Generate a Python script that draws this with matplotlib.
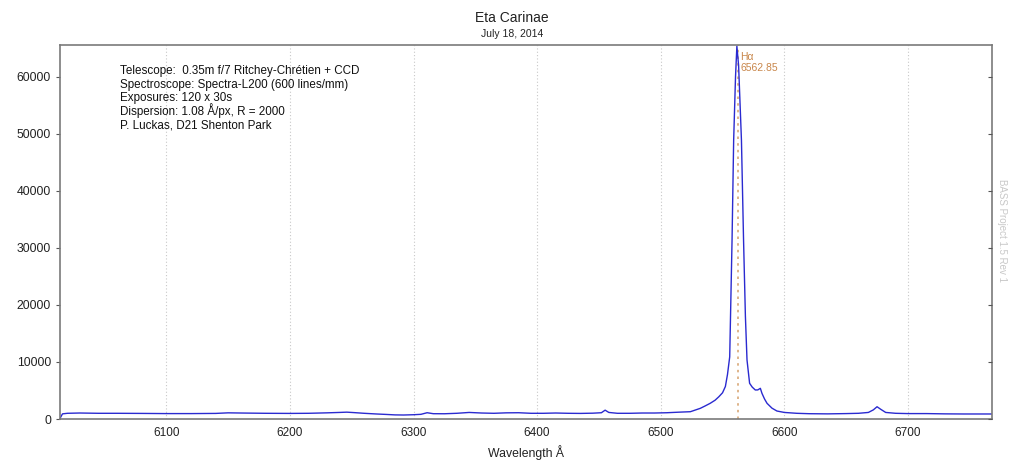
import matplotlib
matplotlib.use("Agg")
import matplotlib.pyplot as plt

# Spectrum (wavelength in Angstrom, intensity in ADU)
wavelength = [6014, 6016, 6020, 6030, 6045, 6060, 6080, 6100, 6120, 6140, 6150, 6160,
              6180, 6200, 6215, 6230, 6240, 6246, 6252, 6260, 6270, 6278, 6285, 6292,
              6300, 6306, 6311, 6316, 6325, 6335, 6345, 6355, 6365, 6375, 6385, 6395,
              6405, 6415, 6425, 6435, 6445, 6452, 6455, 6458, 6465, 6475, 6485, 6495,
              6505, 6515, 6524, 6532, 6536, 6540, 6544, 6547, 6550, 6552.3, 6554,
              6555.8, 6557.7, 6559, 6560.5, 6561.6, 6563, 6565.3, 6567, 6568.5,
              6569.8, 6571.9, 6574, 6576.5, 6578.5, 6580.6, 6581.9, 6584, 6586,
              6590, 6594, 6600, 6610, 6620, 6635, 6650, 6660, 6668, 6672, 6675,
              6678, 6682, 6690, 6700, 6715, 6730, 6745, 6760, 6768]
intensity = [100, 900, 1000, 1050, 1000, 1000, 980, 950, 950, 980, 1080, 1050,
             1000, 980, 1000, 1080, 1150, 1200, 1120, 1000, 880, 800, 720, 700,
             750, 820, 1100, 930, 920, 1000, 1150, 1050, 1000, 1080, 1100, 1000,
             1000, 1050, 1000, 980, 1020, 1100, 1550, 1150, 1000, 1000, 1050, 1050,
             1100, 1200, 1280, 1870, 2300, 2750, 3300, 3900, 4600, 5700, 7800,
             10900, 31400, 48900, 60000, 65400, 62000, 48900, 31400, 18000,
             10350, 6260, 5600, 5090, 5100, 5380, 4500, 3500, 2750,
             1900, 1400, 1150, 1000, 930, 900, 950, 1000, 1150, 1600, 2150,
             1700, 1150, 1000, 950, 950, 900, 880, 880, 880]

x_ticks = [6100, 6200, 6300, 6400, 6500, 6600, 6700]
y_ticks = [0, 10000, 20000, 30000, 40000, 50000, 60000]
halpha = 6562.85

info_lines = ["Telescope:  0.35m f/7 Ritchey-Chrétien + CCD",
              "Spectroscope: Spectra-L200 (600 lines/mm)",
              "Exposures: 120 x 30s",
              "Dispersion: 1.08 Å/px, R = 2000",
              "P. Luckas, D21 Shenton Park"]

plt.rcParams['font.family'] = ['Liberation Sans', 'DejaVu Sans']

fig = plt.figure(figsize=(10.24, 4.65), dpi=100)
ax = fig.add_axes([60/1024, 46/465, 932/1024, 374/465])

for xt in x_ticks:
    ax.axvline(xt, color='#c8c8c8', linestyle=(0, (1, 2)), linewidth=0.8, zorder=0)

ax.axvline(halpha, color='#d9a877', linestyle=(0, (1.5, 2.5)), linewidth=1.2, zorder=1)
ax.plot(wavelength, intensity, color='#2a2ad0', linewidth=1.0, zorder=2)

ax.set_xlim(6014, 6768)
ax.set_ylim(0, 65600)
ax.set_xticks(x_ticks)
ax.set_yticks(y_ticks)
ax.tick_params(axis='x', length=0, labelsize=8.5, pad=6, colors='#222222')
ax.tick_params(axis='y', length=3, labelsize=8.8, labelcolor='#222222',
               color='#555555', direction='out', width=0.8)
for s in ax.spines.values():
    s.set_color('#7a7a7a')
    s.set_linewidth(1.2)

ax_r = ax.twinx()
ax_r.set_ylim(0, 65600)
ax_r.set_yticks(y_ticks)
ax_r.tick_params(axis='y', direction='in', length=3, width=0.8, color='#555555',
                 labelright=False)
for s in ax_r.spines.values():
    s.set_visible(False)

ax.set_xlabel("Wavelength Å", fontsize=8.8, color='#222222', labelpad=4)

ax.text(halpha + 1.5, 64300, "Hα\n6562.85", color='#c8864a', fontsize=7.5,
        va='top', ha='left', linespacing=1.1)

for i, line in enumerate(info_lines):
    fig.text(120/1024, 1 - (74 + i * 13.5) / 465, line, fontsize=8.4,
             color='#111111', va='baseline', ha='left')

fig.text(0.5, 0.962, "Eta Carinae", ha='center', va='center', fontsize=10, color='#222222')
fig.text(0.5, 0.927, "July 18, 2014", ha='center', va='center', fontsize=7.5, color='#222222')

fig.text(1002/1024, 0.505, "BASS Project 1.5 Rev 1", rotation=-90, ha='center',
         va='center', fontsize=7, color='#c8c8c8')

fig.savefig("out.png", dpi=100, facecolor='white')
